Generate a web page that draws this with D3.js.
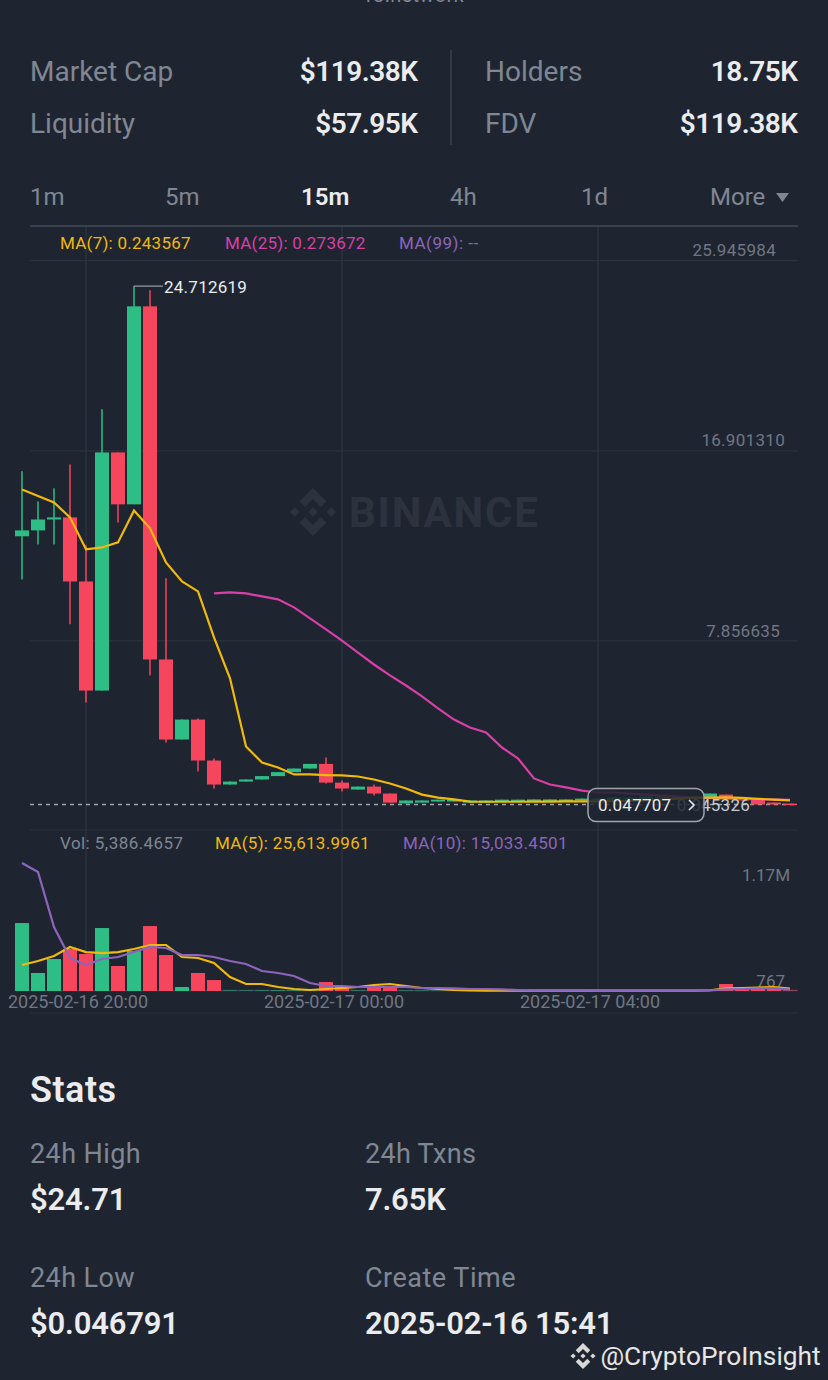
<!DOCTYPE html>
<html>
<head>
<meta charset="utf-8">
<script src="https://cdn.jsdelivr.net/npm/d3@7"></script>
<style>
  html, body { margin: 0; padding: 0; background: #1f2530; }
  svg { display: block; }
  text { font-family: Roboto, "Noto Sans", sans-serif; }
</style>
</head>
<body>
<svg></svg>
<script>
const candleOpen = [12.81, 13.09, 13.61, 13.71, 10.66, 5.47, 16.80, 14.33, 23.75, 6.95, 3.14, 4.09, 2.14, 1.00, 1.14, 1.24, 1.40, 1.59, 1.76, 1.98, 1.09, 0.76, 0.90, 0.57, 0.10, 0.14, 0.19, 0.19, 0.14, 0.14, 0.19, 0.19, 0.19, 0.19, 0.19, 0.24, 0.24, 0.24, 0.29, 0.29, 0.33, 0.33, 0.33, 0.38, 0.52, 0.33, 0.29, 0.14, 0.09];
const candleClose = [13.09, 13.61, 13.71, 10.66, 5.47, 16.80, 14.33, 23.75, 6.95, 3.14, 4.09, 2.14, 1.00, 1.14, 1.24, 1.40, 1.59, 1.76, 1.98, 1.09, 0.81, 0.90, 0.57, 0.14, 0.24, 0.24, 0.28, 0.28, 0.24, 0.24, 0.28, 0.28, 0.29, 0.29, 0.29, 0.33, 0.33, 0.38, 0.38, 0.43, 0.43, 0.43, 0.43, 0.57, 0.33, 0.24, 0.05, 0.05, 0.047707];
const candleHigh = [15.90, 14.47, 15.09, 16.23, 12.38, 18.85, 16.80, 24.712619, 24.52, 10.81, 4.09, 4.14, 2.24, 1.14, 1.24, 1.40, 1.59, 1.76, 1.98, 2.28, 1.19, 0.90, 1.00, 0.57, 0.24, 0.24, 0.28, 0.28, 0.24, 0.24, 0.28, 0.28, 0.29, 0.29, 0.29, 0.33, 0.33, 0.38, 0.38, 0.43, 0.43, 0.43, 0.43, 0.57, 0.52, 0.33, 0.29, 0.14, 0.09];
const candleLow = [10.76, 12.42, 12.42, 8.62, 4.90, 5.47, 13.47, 14.33, 6.19, 3.00, 3.14, 1.62, 0.81, 1.00, 1.14, 1.24, 1.40, 1.59, 1.76, 1.05, 0.67, 0.76, 0.48, 0.14, 0.10, 0.14, 0.19, 0.19, 0.14, 0.14, 0.19, 0.19, 0.19, 0.19, 0.19, 0.24, 0.24, 0.24, 0.29, 0.29, 0.33, 0.33, 0.33, 0.38, 0.33, 0.24, 0.05, 0.05, 0.046791];
const volumes = [750000, 199000, 353000, 464000, 408000, 695000, 276000, 441000, 717000, 397000, 44000, 199000, 121000, 5000, 4000, 5000, 6000, 5000, 6000, 99000, 44000, 4000, 44000, 44000, 4000, 4000, 3000, 3000, 3000, 3000, 3000, 3000, 3000, 3000, 3000, 3000, 3000, 3000, 3000, 3000, 3000, 3000, 3000, 5000, 77000, 15000, 33000, 22000, 5386];

const ma7 = [15.04, 14.73, 14.42, 13.71, 12.19, 12.28, 12.52, 14.04, 13.19, 11.57, 10.66, 10.19, 8.00, 6.05, 2.81, 2.05, 1.81, 1.48, 1.48, 1.45, 1.43, 1.38, 1.24, 1.05, 0.81, 0.52, 0.38, 0.29, 0.19, 0.18, 0.18, 0.18, 0.19, 0.19, 0.20, 0.20, 0.20, 0.21, 0.22, 0.24, 0.28, 0.33, 0.36, 0.38, 0.39, 0.36, 0.32, 0.28, 0.243567];
const ma25 = [10.09, 10.14, 10.09, 9.95, 9.81, 9.43, 8.90, 8.38, 7.85, 7.28, 6.71, 6.19, 5.71, 5.19, 4.62, 4.09, 3.71, 3.48, 2.76, 2.24, 1.29, 1.00, 0.86, 0.71, 0.62, 0.62, 0.57, 0.52, 0.48, 0.43, 0.38, 0.36, 0.33, 0.31, 0.29, 0.28, 0.273672];
const ma25Start = 12;
const volMa5 = [287000, 331000, 386000, 486000, 430000, 419000, 430000, 464000, 508000, 508000, 375000, 364000, 309000, 155000, 77000, 77000, 44000, 22000, 11000, 22000, 33000, 44000, 66000, 77000, 55000, 33000, 22000, 11000, 6000, 5000, 5000, 5000, 4000, 4000, 4000, 4000, 4000, 4000, 4000, 4000, 4000, 4000, 5000, 8000, 30000, 33000, 38000, 44000, 25614];
const volMa10 = [1413000, 1314000, 706000, 364000, 287000, 353000, 375000, 430000, 486000, 475000, 397000, 397000, 375000, 331000, 298000, 221000, 199000, 166000, 88000, 55000, 55000, 44000, 44000, 44000, 44000, 33000, 33000, 28000, 22000, 22000, 17000, 11000, 6000, 6000, 6000, 6000, 5000, 5000, 5000, 5000, 5000, 5000, 5000, 7000, 17000, 22000, 28000, 33000, 15033];

const priceTicks = [7.856635, 16.901310, 25.945984];
const priceTickRight = [750, 755, 746];
const volumeTicks = [767, 1170000];
const volumeTickLabels = ['767', '1.17M'];
const timeTicks = [new Date(2025, 1, 16, 20, 0), new Date(2025, 1, 17, 0, 0), new Date(2025, 1, 17, 4, 0)];
const firstCandle = new Date(2025, 1, 16, 19, 0);
const candleTimes = candleOpen.map((d, i) => d3.timeMinute.offset(firstCandle, i * 15));

const statRows = [['Market Cap', '$119.38K', 'Holders', '18.75K'], ['Liquidity', '$57.95K', 'FDV', '$119.38K']];
const intervals = ['1m', '5m', '15m', '4h', '1d', 'More'];
const intervalX = [30, 165, 301, 450, 581, 710];
const priceLegend = ['MA(7): 0.243567', 'MA(25): 0.273672', 'MA(99): --'];
const volumeLegend = ['Vol: 5,386.4657', 'MA(5): 25,613.9961', 'MA(10): 15,033.4501'];

const width = 828;
const height = 1380;
const bg = '#1f2530';
const green = '#2ebd85';
const red = '#f6465d';
const yellow = '#f0b90b';
const pink = '#d93fa8';
const purple = '#8d64bd';
const grid = '#2b323d';
const gray = '#7f8794';
const axisGray = '#6f7783';
const white = '#eaecef';

const svg = d3.select('svg').attr('width', width).attr('height', height);

const xScale = d3.scaleTime()
  .domain([candleTimes[0], candleTimes[candleTimes.length - 1]])
  .range([22, 790]);
const priceScale = d3.scaleLinear().domain([7.856635, 25.945984]).range([640.4, 260.2]);
const volumeScale = d3.scaleLinear().domain([0, 1170000]).range([991, 885]);

const addText = (str, x, y, size, fill, weight, anchor, spacing) => svg.append('text')
  .attr('x', x).attr('y', y)
  .attr('font-size', size)
  .attr('fill', fill)
  .attr('font-weight', weight || 400)
  .attr('text-anchor', anchor || 'start')
  .attr('letter-spacing', spacing || 0)
  .text(str);

// binance mark, r is centre to tip
const drawLogo = (cx, cy, r, fill) => {
  const shapes = [
    [[0, -0.2], [0.2, 0], [0, 0.2], [-0.2, 0]],
    [[-0.76, -0.2], [-0.56, 0], [-0.76, 0.2], [-0.96, 0]],
    [[0.76, -0.2], [0.96, 0], [0.76, 0.2], [0.56, 0]],
    [[0, -1], [0.56, -0.44], [0.33, -0.21], [0, -0.54], [-0.33, -0.21], [-0.56, -0.44]],
    [[0, 1], [0.56, 0.44], [0.33, 0.21], [0, 0.54], [-0.33, 0.21], [-0.56, 0.44]]
  ];
  svg.append('g').selectAll('polygon').data(shapes).enter().append('polygon')
    .attr('points', d => d.map(p => (cx + p[0] * r) + ',' + (cy + p[1] * r)).join(' '))
    .attr('fill', fill);
};

const createHeader = () => {
  addText('r3.network', 415, 2, 20, gray, 400, 'middle', 0.3);
  statRows.forEach((row, i) => {
    const y = 81 + i * 52;
    addText(row[0], 30, y, 28, gray);
    addText(row[1], 417.5, y, 28, white, 600, 'end', -0.5);
    addText(row[2], 485, y, 28, gray);
    addText(row[3], 797.5, y, 28, white, 600, 'end', -0.5);
  });
  svg.append('line').attr('x1', 451).attr('x2', 451).attr('y1', 50).attr('y2', 145)
    .attr('stroke', '#39414d').attr('stroke-width', 1.5);
  intervals.forEach((d, i) => {
    const active = d === '15m';
    addText(d, intervalX[i], 205, 24, active ? white : gray, active ? 600 : 400);
  });
  svg.append('path').attr('d', 'M776,193 L789,193 L782.5,202 Z').attr('fill', gray);
  svg.append('line').attr('x1', 30).attr('x2', 798).attr('y1', 226).attr('y2', 226)
    .attr('stroke', '#39414d').attr('stroke-width', 2);
};

const createGrid = () => {
  const xAxis = d3.axisBottom(xScale)
    .tickValues(timeTicks)
    .tickFormat(d3.timeFormat('%Y-%m-%d %H:%M'))
    .tickSize(0)
    .tickPadding(0);
  const xg = svg.append('g').attr('transform', 'translate(-8.5,995.5)').call(xAxis);
  xg.select('.domain').remove();
  xg.selectAll('text').attr('font-size', 18).attr('fill', axisGray).attr('font-family', null);

  svg.append('g').selectAll('line').data(timeTicks).enter().append('line')
    .attr('x1', d => xScale(d)).attr('x2', d => xScale(d))
    .attr('y1', 227).attr('y2', 990)
    .attr('stroke', grid).attr('stroke-width', 1.5);

  const priceAxis = d3.axisRight(priceScale)
    .tickValues(priceTicks)
    .tickFormat(d3.format('.6f'))
    .tickSize(768)
    .tickPadding(0);
  const pg = svg.append('g').attr('transform', 'translate(30,0)').call(priceAxis);
  pg.select('.domain').remove();
  pg.selectAll('line').attr('stroke', grid).attr('stroke-width', 1.2);
  pg.selectAll('text')
    .attr('x', (d, i) => priceTickRight[i]).attr('dy', (d, i) => i === 0 ? -4 : -5)
    .attr('text-anchor', 'end').attr('letter-spacing', 0.3)
    .attr('font-size', 17).attr('fill', axisGray).attr('font-family', null);

  const volumeAxis = d3.axisRight(volumeScale)
    .tickValues(volumeTicks)
    .tickFormat((d, i) => volumeTickLabels[i])
    .tickSize(0);
  const vg = svg.append('g').attr('transform', 'translate(30,0)').call(volumeAxis);
  vg.select('.domain').remove();
  vg.selectAll('text')
    .attr('x', (d, i) => i === 0 ? 755 : 760).attr('dy', (d, i) => i === 0 ? -4 : -5)
    .attr('text-anchor', 'end')
    .attr('font-size', 17).attr('fill', axisGray).attr('font-family', null);

  [830, 1013].forEach(y => {
    svg.append('line').attr('x1', 30).attr('x2', 798).attr('y1', y).attr('y2', y)
      .attr('stroke', grid).attr('stroke-width', 1.2);
  });
  svg.append('line').attr('x1', 15).attr('x2', 798).attr('y1', 990.5).attr('y2', 990.5)
    .attr('stroke', '#39414d').attr('stroke-width', 1.5);

  drawLogo(313, 512, 24, '#2c333e');
  addText('BINANCE', 349, 527, 42, '#2c333e', 700, 'start', 1.8);
};

const createCandles = () => {
  svg.append('line')
    .attr('x1', 30).attr('x2', 798)
    .attr('y1', priceScale(0.047707)).attr('y2', priceScale(0.047707))
    .attr('stroke', '#a0a5ad').attr('stroke-width', 1.5).attr('stroke-dasharray', '4 4');

  const color = i => candleClose[i] >= candleOpen[i] ? green : red;
  svg.append('g').selectAll('line').data(candleTimes).enter().append('line')
    .attr('x1', d => xScale(d)).attr('x2', d => xScale(d))
    .attr('y1', (d, i) => priceScale(candleHigh[i]))
    .attr('y2', (d, i) => priceScale(candleLow[i]))
    .attr('stroke', (d, i) => color(i)).attr('stroke-width', 1.5);

  svg.append('g').selectAll('rect').data(candleTimes).enter().append('rect')
    .attr('x', d => xScale(d) - 7)
    .attr('width', 14)
    .attr('y', (d, i) => priceScale(Math.max(candleOpen[i], candleClose[i])))
    .attr('height', (d, i) => Math.max(1.5, Math.abs(priceScale(candleOpen[i]) - priceScale(candleClose[i]))))
    .attr('fill', (d, i) => color(i));

  svg.append('g').selectAll('rect').data(candleTimes).enter().append('rect')
    .attr('x', d => xScale(d) - 7)
    .attr('width', 14)
    .attr('y', (d, i) => volumeScale(volumes[i]))
    .attr('height', (d, i) => 991 - volumeScale(volumes[i]))
    .attr('fill', (d, i) => color(i));
};

const createLines = () => {
  const addLine = (values, start, scale, stroke) => {
    const line = d3.line()
      .x((d, i) => xScale(candleTimes[i + start]))
      .y(d => scale(d));
    svg.append('path').attr('d', line(values))
      .attr('fill', 'none').attr('stroke', stroke).attr('stroke-width', 2.2);
  };
  addLine(ma25, ma25Start, priceScale, pink);
  addLine(ma7, 0, priceScale, yellow);
  addLine(volMa5, 0, volumeScale, yellow);
  addLine(volMa10, 0, volumeScale, purple);
};

const createLabels = () => {
  const legendColors = [yellow, pink, purple];
  [60, 225, 399].forEach((x, i) => addText(priceLegend[i], x, 249, 17, legendColors[i], 400, 'start', i === 2 ? 0.5 : 0.25));
  const volColors = [gray, yellow, purple];
  [60, 215, 403].forEach((x, i) => addText(volumeLegend[i], x, 849, 17, volColors[i], 400, 'start', i === 0 ? 0.45 : 0.3));

  // high marker
  svg.append('line')
    .attr('x1', xScale(candleTimes[7])).attr('x2', 163)
    .attr('y1', priceScale(24.712619)).attr('y2', priceScale(24.712619))
    .attr('stroke', '#9aa0a8').attr('stroke-width', 1.2);
  addText('24.712619', 164, 293, 17, white, 400, 'start', 0.25);

  // price tag, second price shows through it
  addText('0.045326', 750, 811, 17, '#c8ccd2', 400, 'end', 0.25);
  svg.append('rect')
    .attr('x', 588).attr('y', 788.5).attr('width', 116).attr('height', 33).attr('rx', 8)
    .attr('fill', bg).attr('fill-opacity', 0.85)
    .attr('stroke', '#a0a5ad').attr('stroke-width', 1.5);
  addText('0.047707', 598, 811, 17, white, 400, 'start', 0.25);
  svg.append('path').attr('d', 'M689,800 L694,805 L689,810')
    .attr('fill', 'none').attr('stroke', white).attr('stroke-width', 1.6);
};

const createStats = () => {
  addText('Stats', 30, 1102, 36, white, 600, 'start', 0.5);
  addText('24h High', 30, 1163, 27, gray, 400, 'start', 0.4);
  addText('$24.71', 30, 1210, 31, white, 600, 'start', -0.2);
  addText('24h Txns', 365, 1163, 27, gray, 400, 'start', 0.3);
  addText('7.65K', 365, 1210, 31, white, 600, 'start', -0.2);
  addText('24h Low', 30, 1287, 27, gray, 400, 'start', 0.4);
  addText('$0.046791', 30, 1334, 31, white, 600, 'start', -0.2);
  addText('Create Time', 365, 1287, 27, gray, 400, 'start', 0.5);
  addText('2025-02-16 15:41', 365, 1334, 31, white, 600, 'start', -0.2);

  drawLogo(583, 1356, 13, '#d8d8d8');
  addText('@CryptoProInsight', 600.5, 1365, 26.3, '#e6e6e6').attr('font-family', '"Noto Sans"');
};

createHeader();
createGrid();
createCandles();
createLines();
createLabels();
createStats();
</script>
</body>
</html>
